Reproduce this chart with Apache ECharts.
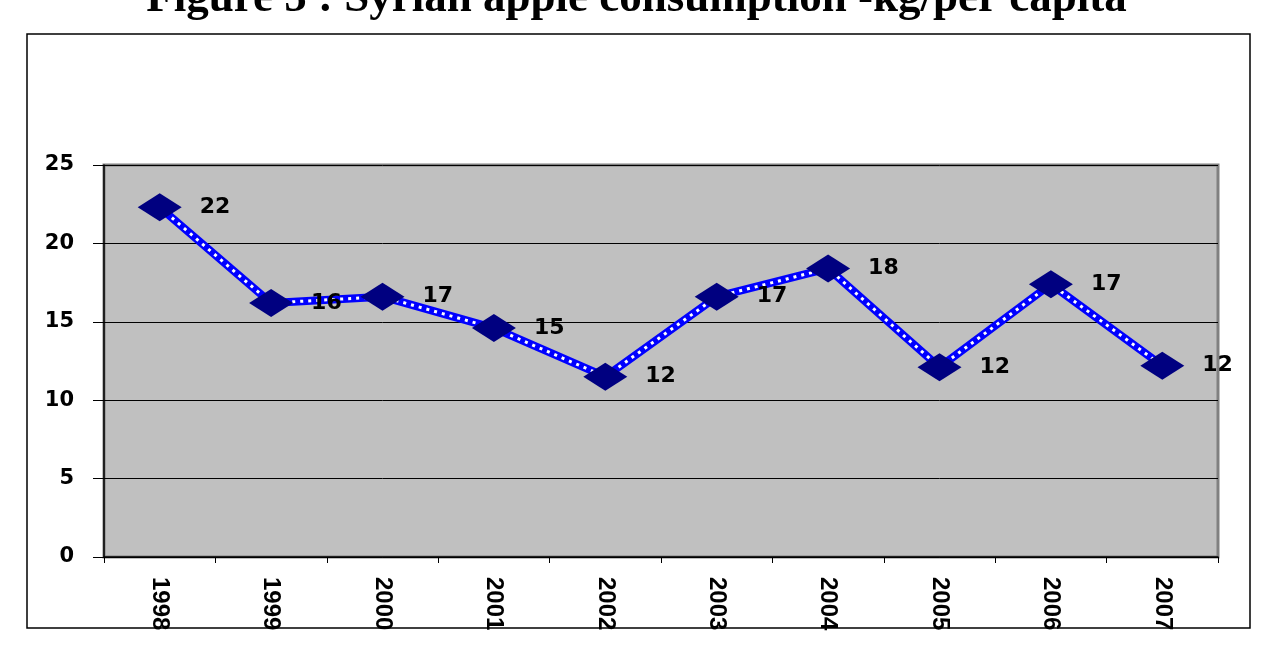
<!DOCTYPE html>
<html>
<head>
<meta charset="utf-8">
<script src="https://cdn.jsdelivr.net/npm/echarts@6/dist/echarts.min.js"></script>
<style>
    html, body { margin: 0; padding: 0; background: #fff; }
    #chart { width: 1273px; height: 648px; }
</style>
</head>
<body>
<div id="chart"></div>
<script>
// 叙利亚苹果人均消费
const years = ['1998', '1999', '2000', '2001', '2002', '2003', '2004', '2005', '2006', '2007']
const consumption = [22.3, 16.2, 16.6, 14.6, 11.5, 16.6, 18.4, 12.1, 17.4, 12.2]
const yTicks = [0, 5, 10, 15, 20, 25]

const chart = echarts.init(document.getElementById('chart'))
const boldArial = 'Liberation Sans, Arial, sans-serif'
const wideSans = 'DejaVu Sans, Verdana, sans-serif'

let option = {
    animation: false,
    title: {
        text: 'Figure 5 : Syrian apple consumption -kg/per capita',
        left: 'center',
        top: -28,
        textStyle: {
            fontFamily: 'Liberation Serif, Times New Roman, serif',
            fontWeight: 'bold',
            fontSize: 45,
            color: '#000'
        }
    },
    graphic: [{
        type: 'rect',
        shape: { x: 27, y: 34, width: 1223, height: 594 },
        style: { fill: 'none', stroke: '#000', lineWidth: 1.5 },
        z: 0
    }],
    grid: {
        left: 104,
        right: 55,
        top: 165,
        bottom: 91,
        show: true,
        backgroundColor: '#c0c0c0',
        borderColor: '#808080',
        borderWidth: 3
    },
    xAxis: {
        type: 'category',
        data: years,
        boundaryGap: true,
        axisLine: { lineStyle: { color: '#000', width: 1.5 } },
        axisTick: { show: true, length: 6, lineStyle: { color: '#000' } },
        axisLabel: {
            rotate: -90,
            margin: 20,
            fontFamily: boldArial,
            fontWeight: 'bold',
            fontSize: 24,
            color: '#000'
        }
    },
    yAxis: {
        type: 'value',
        min: yTicks[0],
        max: yTicks[yTicks.length - 1],
        interval: 5,
        axisLine: { show: true, lineStyle: { color: '#000', width: 1.5 } },
        axisTick: { show: true, length: 11, lineStyle: { color: '#000' } },
        axisLabel: {
            margin: 30,
            fontFamily: wideSans,
            fontWeight: 'bold',
            fontSize: 21,
            color: '#000'
        },
        splitLine: { show: true, lineStyle: { color: '#000', width: 1 } }
    },
    series: [
        {
            type: 'line',
            data: consumption,
            symbol: 'none',
            lineStyle: { color: '#0000ff', width: 8 },
            z: 2
        },
        {
            type: 'line',
            data: consumption,
            symbol: 'diamond',
            symbolSize: [44, 28],
            itemStyle: { color: '#000080', opacity: 1 },
            lineStyle: { color: '#fff', width: 3, type: [3, 5], cap: 'butt' },
            label: {
                show: true,
                position: 'right',
                distance: 18,
                formatter: p => Math.round(p.value),
                fontFamily: wideSans,
                fontWeight: 'bold',
                fontSize: 22,
                color: '#000'
            },
            z: 3
        }
    ]
}
chart.setOption(option)
</script>
</body>
</html>
